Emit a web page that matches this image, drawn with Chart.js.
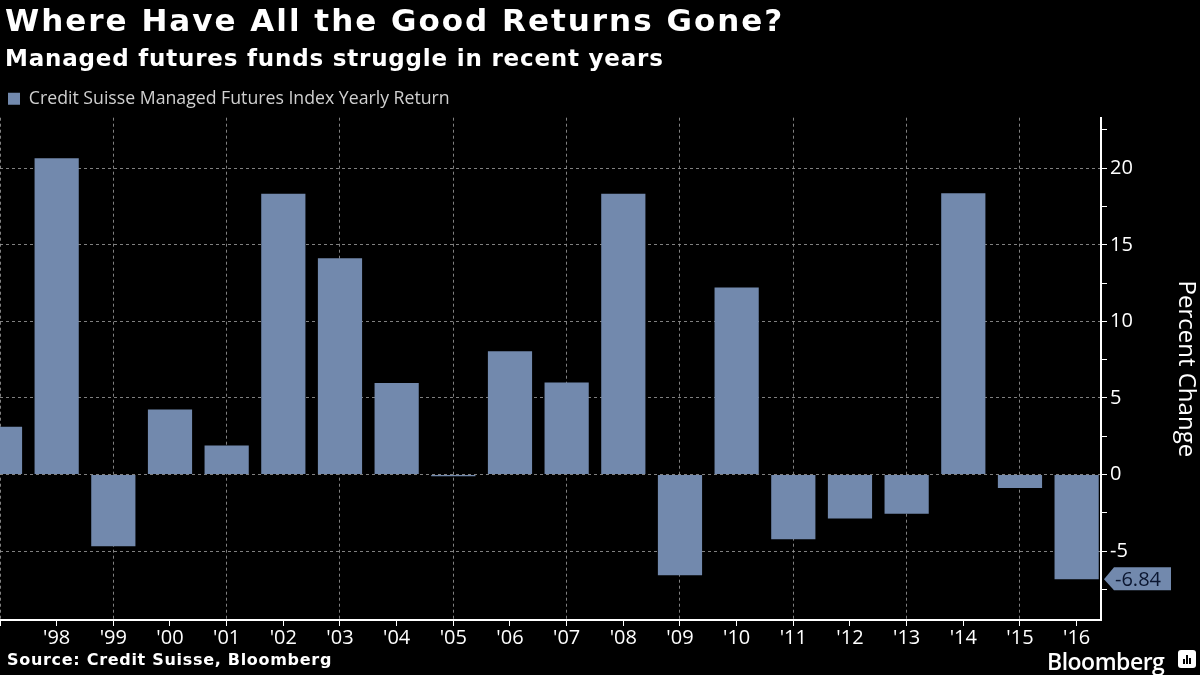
<!DOCTYPE html>
<html lang="en">

<head>
  <meta charset="UTF-8">
  <title>Where Have All the Good Returns Gone?</title>
  <script src="https://cdn.jsdelivr.net/npm/chart.js"></script>
  <style>
    body {
      margin: 0;
      background: #000;
      width: 1200px;
      height: 675px;
      overflow: hidden;
      position: relative;
    }
    #chartBox {
      position: absolute;
      left: 0;
      top: 0;
      width: 1200px;
      height: 675px;
    }
    .txt {
      position: absolute;
      color: #fff;
      white-space: nowrap;
      font-family: "DejaVu Sans", sans-serif;
      font-weight: bold;
    }
    #title { left: 5px; top: 2px; font-size: 31px; letter-spacing: 2px; }
    #subtitle { left: 5px; top: 45px; font-size: 23px; letter-spacing: 0.8px; }
    #source { left: 7px; top: 650px; font-size: 16px; letter-spacing: 0.7px; }
    #logo { left: 1047px; top: 645px; font-size: 23px; font-family: "Open Sans", sans-serif; font-weight: 600; letter-spacing: -0.5px; }
    #logoIcon {
      position: absolute; left: 1178px; top: 650px; width: 18px; height: 18px;
      background: #fff; border-radius: 3px;
    }
    #logoIcon span { position: absolute; bottom: 4px; width: 2px; background: #000; }
  </style>
</head>

<body>
  <div id="chartBox"><canvas id="graphCanvas" width="1200" height="675"></canvas></div>
  <div class="txt" id="title">Where Have All the Good Returns Gone?</div>
  <div class="txt" id="subtitle">Managed futures funds struggle in recent years</div>
  <div class="txt" id="source">Source: Credit Suisse, Bloomberg</div>
  <div class="txt" id="logo">Bloomberg</div>
  <div id="logoIcon"><span style="left:5px;height:5px"></span><span style="left:8px;height:9px"></span><span style="left:11px;height:6px"></span></div>

  <script>
    // yearly returns, 1997 is only half visible at the left edge
    const years = [1997, 1998, 1999, 2000, 2001, 2002, 2003, 2004, 2005, 2006,
      2007, 2008, 2009, 2010, 2011, 2012, 2013, 2014, 2015, 2016];
    const returns = [3.12, 20.65, -4.69, 4.24, 1.90, 18.33, 14.13, 5.97, -0.11, 8.05,
      6.01, 18.33, -6.57, 12.22, -4.23, -2.87, -2.56, 18.37, -0.88, -6.84];
    const yTicks = [-7.5, -5, -2.5, 0, 2.5, 5, 7.5, 10, 12.5, 15, 17.5, 20, 22.5];
    const seriesName = 'Credit Suisse Managed Futures Index Yearly Return';

    const barColor = '#7289ad';
    const gridColor = 'rgba(150,150,150,0.85)';
    const tickFont = { family: 'Open Sans', size: 20 };

    // little tag with the latest value, pointing at the last bar
    const lastValueTag = {
      id: 'lastValueTag',
      afterDraw(chart) {
        const ctx = chart.ctx;
        const y = chart.scales.y.getPixelForValue(returns[returns.length - 1]);
        const x0 = chart.chartArea.right + 3;
        ctx.save();
        ctx.fillStyle = barColor;
        ctx.beginPath();
        ctx.moveTo(x0, y);
        ctx.lineTo(x0 + 10, y - 12);
        ctx.lineTo(x0 + 67, y - 12);
        ctx.lineTo(x0 + 67, y + 11);
        ctx.lineTo(x0 + 10, y + 11);
        ctx.closePath();
        ctx.fill();
        ctx.fillStyle = '#0b1630';
        ctx.font = '20px "Open Sans"';
        ctx.textBaseline = 'middle';
        ctx.fillText(returns[returns.length - 1].toFixed(2), x0 + 11, y + 1);
        ctx.restore();
      }
    };

    const ctx = document.getElementById('graphCanvas').getContext('2d');
    const chart = new Chart(ctx, {
      type: 'bar',
      data: {
        datasets: [{
          label: seriesName,
          data: years.map((yr, i) => ({ x: yr, y: returns[i] })),
          backgroundColor: barColor,
          borderWidth: 0,
          barPercentage: 0.78,
          categoryPercentage: 1
        }]
      },
      options: {
        responsive: false,
        animation: false,
        layout: { padding: { top: 82, left: 0, right: 0, bottom: 0 } },
        scales: {
          x: {
            type: 'linear',
            min: 1997,
            max: 2016.43,
            offset: false,
            afterBuildTicks: (s) => { s.ticks = years.map(v => ({ value: v })); },
            afterFit: (s) => { s.height = 55; },
            ticks: {
              color: '#fff',
              font: tickFont,
              padding: 0,
              maxRotation: 0,
              autoSkip: false,
              callback: (v) => v === 1997 ? '' : "'" + String(v).slice(2)
            },
            grid: {
              offset: false,
              color: (c) => (c.tick && c.tick.value % 2 === 1) ? gridColor : 'transparent',
              tickColor: '#fff',
              tickLength: 6,
              lineWidth: 1
            },
            border: { display: true, color: '#fff', width: 2, dash: [3, 3] }
          },
          y: {
            position: 'right',
            min: -9.5,
            max: 23.3,
            afterBuildTicks: (s) => { s.ticks = yTicks.map(v => ({ value: v })); },
            afterFit: (s) => { s.width = 99; },
            ticks: {
              color: '#fff',
              font: tickFont,
              padding: 3,
              callback: (v) => v % 5 === 0 ? String(v) : ''
            },
            grid: {
              color: (c) => (c.tick && c.tick.value % 5 === 0) ? gridColor : 'transparent',
              tickColor: '#fff',
              tickLength: 6,
              lineWidth: 1
            },
            border: { display: true, color: '#fff', width: 2, dash: [3, 3] },
            title: {
              display: true,
              text: 'Percent Change',
              color: '#fff',
              font: { family: 'Open Sans', size: 24 },
              padding: { top: 0, bottom: 2 }
            }
          }
        },
        plugins: {
          legend: {
            display: true,
            position: 'top',
            align: 'start',
            labels: {
              color: '#d0d0d0',
              font: { family: 'Open Sans', size: 17.7 },
              boxWidth: 12,
              boxHeight: 12,
              padding: 8
            }
          },
          tooltip: { enabled: false }
        }
      },
      plugins: [lastValueTag]
    });
  </script>
</body>

</html>
